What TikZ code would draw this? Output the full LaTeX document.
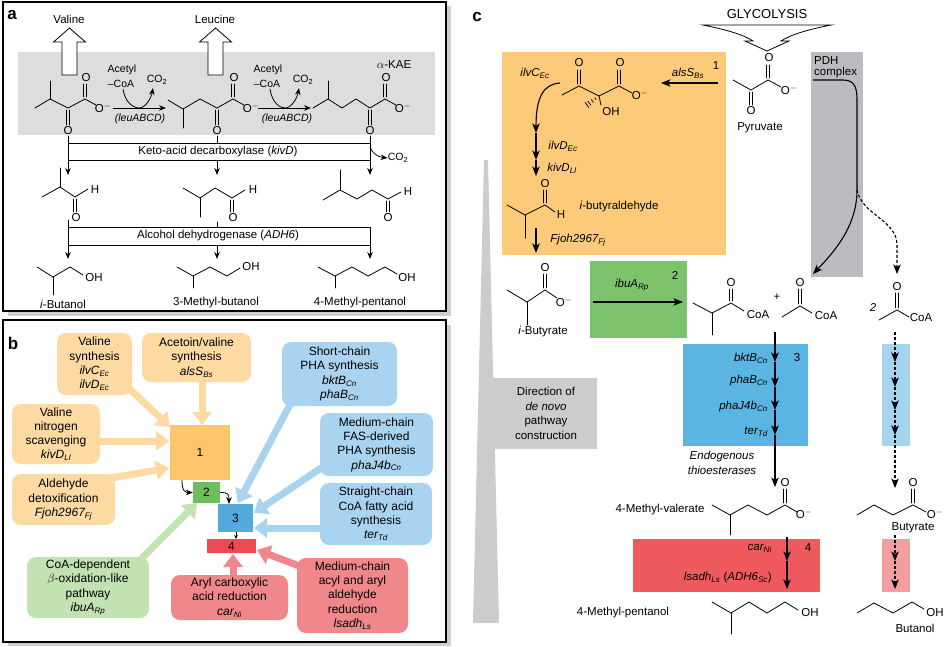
\documentclass[tikz,border=0pt]{standalone}
\usepackage{fontspec}
\setmainfont{Liberation Sans}
\usetikzlibrary{arrows.meta,calc}
\definecolor{band}{HTML}{DDDDDD}
\definecolor{shad}{HTML}{CFCFCF}
\definecolor{orL}{HTML}{FDDAA2}
\definecolor{orB}{HTML}{FDC56C}
\definecolor{grL}{HTML}{C2E2B2}
\definecolor{grB}{HTML}{6DBF5E}
\definecolor{blL}{HTML}{A9D3EE}
\definecolor{blB}{HTML}{54AADC}
\definecolor{rdL}{HTML}{F0878A}
\definecolor{rdB}{HTML}{EB4B50}
\definecolor{cor}{HTML}{FDCA7A}
\definecolor{cgr}{HTML}{7CC36C}
\definecolor{cbl}{HTML}{5BB5E2}
\definecolor{cblL}{HTML}{A6D4EF}
\definecolor{crd}{HTML}{EF5A5E}
\definecolor{crdL}{HTML}{F39EA1}
\definecolor{pdh}{HTML}{BBBCBF}
\definecolor{wedge}{HTML}{CBCCCE}
\newcommand{\gi}[2]{\textit{#1\textsubscript{#2}}}
\newcommand{\vdb}[3]{\draw[bond] (#1-1.3,#2) -- (#1-1.3,#3) (#1+1.3,#2) -- (#1+1.3,#3);}
\newcommand{\Om}{O\textsuperscript{$-$}}
\tikzset{
  lbl/.style={font=\fontsize{11.5}{13.5}\selectfont, inner sep=0pt},
  slbl/.style={font=\fontsize{10.5}{12}\selectfont, inner sep=0pt},
  plab/.style={font=\fontsize{17}{17}\selectfont\bfseries, inner sep=0pt},
  bond/.style={line width=0.8pt, line cap=round, line join=round},
  frame/.style={line width=1.3pt, draw=black},
  arr/.style={line width=0.8pt, -{Stealth[length=7pt,width=5.5pt]}},
  carr/.style={line width=1.1pt, -{Stealth[length=9.5pt,width=7.5pt,inset=2.5pt]}},
  dcarr/.style={carr, dash pattern=on 3pt off 2pt},
  bigarr/.style={line width=7pt, -{Triangle[length=13pt,width=19pt]}},
  pbox/.style={rounded corners=9pt, align=center, inner sep=0pt, font=\fontsize{12}{14.3}\selectfont},
  nbox/.style={inner sep=0pt, font=\fontsize{12}{14}\selectfont},
  blk/.style={line width=0.8pt, draw=black, fill=white, line join=miter},
}
\begin{document}
\begin{tikzpicture}[x=1pt,y=-1pt]
\useasboundingbox (0,0) rectangle (946,646);
\fill[white] (0,0) rectangle (946,646);
% ================= PANEL A =================
\fill[shad] (8,6) rectangle (451,316);
\draw[frame,fill=white] (3,2) rectangle (446,311);
\node[plab] (la) at (12,15) {a};
\fill[band] (18,52) rectangle (435,135);
\draw[blk] (62,75) -- (62,42) -- (53.5,42) -- (69.5,28) -- (85.5,42) -- (77,42) -- (77,75) -- cycle;
\draw[blk] (208,75) -- (208,42) -- (199.5,42) -- (215.5,28) -- (231.5,42) -- (223,42) -- (223,75) -- cycle;
\node[lbl] (val) at (69,19) {Valine};
\node[lbl] (leu) at (215,19) {Leucine};
% molecule 1
\draw[bond] (35,108) -- (50,99) -- (68,108) -- (85,99) -- (96,105);
\draw[bond] (50,99) -- (50,81);
\vdb{68}{110}{125}
\vdb{85}{97}{84}
\node[lbl] (m1o1) at (68,131) {O};
\node[lbl] (m1o2) at (86,78) {O};
\node[lbl] (m1o3) at (103,108) {\Om};
% reaction 1
\coordinate (r1a) at (113,108); \coordinate (r1b) at (166,108);
\draw[arr] (r1a) -- (r1b);
\draw[arr] (123,89) .. controls (125,103) and (134,108) .. (139,108) .. controls (145,108) and (151,99) .. (153,88);
\node[slbl] (ac1) at (122,70) {Acetyl};
\node[slbl] (co1) at (121,84) {--CoA};
\node[slbl] (cd1) at (157,80) {CO\textsubscript{2}};
\node[slbl] (leuA1) at (140,119) {\textit{(leuABCD)}};
% molecule 2
\draw[bond] (168,100) -- (183,109) -- (200,99) -- (217,108) -- (233,99) -- (244,105);
\draw[bond] (183,109) -- (183,128);
\vdb{217}{110}{125}
\vdb{233}{97}{84}
\node[lbl] (m2o1) at (217,131) {O};
\node[lbl] (m2o2) at (234,78) {O};
\node[lbl] (m2o3) at (251,108) {\Om};
% reaction 2
\coordinate (r2a) at (258,108); \coordinate (r2b) at (311,108);
\draw[arr] (r2a) -- (r2b);
\draw[arr] (270,89) .. controls (272,103) and (280,108) .. (285,108) .. controls (291,108) and (297,99) .. (299,88);
\node[slbl] (ac2) at (268,70) {Acetyl};
\node[slbl] (co2) at (267,84) {--CoA};
\node[slbl] (cd2) at (303,80) {CO\textsubscript{2}};
\node[slbl] (leuA2) at (287,119) {\textit{(leuABCD)}};
% molecule 3
\draw[bond] (313,108) -- (328,99) -- (342,108) -- (356,99) -- (370,108) -- (385,99) -- (396,105);
\draw[bond] (328,99) -- (328,81);
\vdb{370}{110}{125}
\vdb{385}{97}{84}
\node[lbl] (m3o1) at (370,131) {O};
\node[lbl] (m3o2) at (386,78) {O};
\node[lbl] (m3o3) at (403,108) {\Om};
\node[lbl] (kae) at (394,65) {$\alpha$-KAE};
% keto-acid decarboxylase bracket
\draw[bond] (68,136) -- (68,143); \draw[bond] (217,136) -- (217,143); \draw[bond] (370,136) -- (370,143);
\draw[bond, line cap=butt] (68,143) rectangle (370,160);
\node[lbl] (kivd) at (218,152) {Keto-acid decarboxylase (\textit{kivD})};
\coordinate (k1) at (68,160); \coordinate (k1e) at (68,175);
\coordinate (k2) at (217,160); \coordinate (k2e) at (217,175);
\coordinate (k3) at (370,160); \coordinate (k3e) at (370,175);
\draw[arr] (k1) -- (k1e); \draw[arr] (k2) -- (k2e); \draw[arr] (k3) -- (k3e);
\node[slbl] (cd3) at (398,158) {CO\textsubscript{2}};
\draw[arr] (370,147) .. controls (373,154) and (378,157) .. (cd3.west);
% aldehydes
\draw[bond] (42,197) -- (60,187) -- (75,197) -- (88,189);
\draw[bond] (60,187) -- (60,168);
\vdb{75}{199}{212}
\node[lbl] (aao) at (76,218) {O};
\node[lbl] (aah) at (95,190) {H};
\draw[bond] (183,188) -- (200,198) -- (215,188) -- (232,198) -- (245,190);
\draw[bond] (200,198) -- (200,217);
\vdb{232}{200}{212}
\node[lbl] (abo) at (233,218) {O};
\node[lbl] (abh) at (253,190) {H};
\draw[bond] (323,200) -- (340,190) -- (357,199) -- (372,190) -- (388,199) -- (401,192);
\draw[bond] (340,190) -- (340,170);
\vdb{388}{201}{212}
\node[lbl] (aco) at (388,218) {O};
\node[lbl] (ach) at (408,192) {H};
% alcohol dehydrogenase bracket
\draw[bond] (68,220) -- (68,227); \draw[bond] (217,222) -- (217,227);
\draw[bond, line cap=butt] (68,227) rectangle (370,245);
\node[lbl] (adh) at (218,236) {Alcohol dehydrogenase (\textit{ADH6})};
\coordinate (d1) at (68,245); \coordinate (d1e) at (68,259);
\coordinate (d2) at (217,245); \coordinate (d2e) at (217,259);
\coordinate (d3) at (370,245); \coordinate (d3e) at (370,259);
\draw[arr] (d1) -- (d1e); \draw[arr] (d2) -- (d2e); \draw[arr] (d3) -- (d3e);
% alcohols
\draw[bond] (37,267) -- (53,277) -- (70,267) -- (83,275);
\draw[bond] (53,277) -- (53,295);
\node[lbl] (ohA) at (94,278) {OH};
\draw[bond] (177,267) -- (193,276) -- (210,267) -- (227,276) -- (240,268);
\draw[bond] (193,276) -- (193,288);
\node[lbl] (ohB) at (251,267) {OH};
\draw[bond] (318,267) -- (335,276) -- (352,267) -- (368,276) -- (385,267) -- (397,274);
\draw[bond] (335,276) -- (335,288);
\node[lbl] (ohC) at (407,278) {OH};
\node[lbl] (nA) at (63,304) {\textit{i}-Butanol};
\node[lbl] (nB) at (216,303) {3-Methyl-butanol};
\node[lbl] (nC) at (360,303) {4-Methyl-pentanol};
% ================= PANEL B =================
\fill[shad] (8,325) rectangle (451,646);
\draw[frame,fill=white] (3,320) rectangle (446,642);
\node[plab] (lb) at (13,343) {b};
% big arrows
\draw[bigarr, orL] (118,378) -- (170,427);
\draw[bigarr, orL] (202,372) -- (202,425);
\draw[bigarr, orL] (90,441) -- (169,441);
\draw[bigarr, orL] (100,480) -- (169,468);
\draw[bigarr, grL] (130,570) -- (197,503);
\draw[bigarr, blL] (295,395) -- (238,503);
\draw[bigarr, blL] (330,462) -- (254,513);
\draw[bigarr, blL] (330,528) -- (254,528);
\draw[bigarr, rdL] (233,585) -- (233,554);
\draw[bigarr, rdL] (310,570) -- (257,550);
% boxes
\node[pbox, fill=orL, minimum width=75pt, minimum height=62pt] (vs) at (94.5,364) {Valine\\synthesis\\\gi{ilvC}{Ec}\\\gi{ilvD}{Ec}};
\node[pbox, fill=orL, minimum width=109pt, minimum height=49pt] (as) at (196.5,357.5) {Acetoin/valine\\synthesis\\\gi{alsS}{Bs}};
\node[pbox, fill=orL, minimum width=88pt, minimum height=60pt] (vn) at (56,434) {Valine\\nitrogen\\scavenging\\\gi{kivD}{Ll}};
\node[pbox, fill=orL, minimum width=103pt, minimum height=51pt] (ad) at (63.5,499.5) {Aldehyde\\detoxification\\\gi{Fjoh2967}{Fj}};
\node[pbox, fill=blL, minimum width=115pt, minimum height=64pt] (sc) at (339.5,374) {Short-chain\\PHA synthesis\\\gi{bktB}{Cn}\\\gi{phaB}{Cn}};
\node[pbox, fill=blL, minimum width=113pt, minimum height=63pt] (mc) at (376.5,444.5) {Medium-chain\\FAS-derived\\PHA synthesis\\\gi{phaJ4b}{Cn}};
\node[pbox, fill=blL, minimum width=112pt, minimum height=62pt] (st) at (376,514) {Straight-chain\\CoA fatty acid\\synthesis\\\gi{ter}{Td}};
\node[pbox, fill=grL, minimum width=122pt, minimum height=61pt] (co) at (88,587.5) {CoA-dependent\\$\beta$-oxidation-like\\pathway\\\gi{ibuA}{Rp}};
\node[pbox, fill=rdL, minimum width=117pt, minimum height=45pt] (ar) at (229.5,597.5) {Aryl carboxylic\\acid reduction\\\gi{car}{Ni}};
\node[pbox, fill=rdL, minimum width=111pt, minimum height=75pt] (ma) at (352.5,595.5) {Medium-chain\\acyl and aryl\\aldehyde\\reduction\\\gi{lsadh}{Ls}};
\node[nbox, fill=orB, minimum width=60pt, minimum height=55pt] (b1) at (200,452.5) {1};
\node[nbox, fill=grB, minimum width=27pt, minimum height=21pt] (b2) at (206.5,492.5) {2};
\node[nbox, fill=blB, minimum width=35pt, minimum height=28pt] (b3) at (235.5,518) {3};
\node[nbox, fill=rdB, minimum width=49pt, minimum height=14pt] (b4) at (231.5,546) {4};
\draw[arr] (182,480) .. controls (182,491) and (185,492.5) .. (b2.west);
\draw[arr] (b2.east) .. controls (228,492.5) and (229,494) .. (229,504);
\draw[line width=0.8pt, -{Stealth[length=4pt,width=3.5pt]}] (236,532) -- (236,539);
% ================= PANEL C =================
\node[plab] (lc) at (477,17) {c};
\fill[wedge] (484,160) -- (488,160) -- (499,623) -- (473,623) -- cycle;
\fill[wedge] (491,378) rectangle (597,449);
\node[lbl, align=center, font=\fontsize{11.5}{14.5}\selectfont] (dir) at (546,413.5) {Direction of\\\textit{de novo}\\pathway\\construction};
\fill[cor] (502,52) rectangle (726,255);
\fill[pdh] (811,52) rectangle (863,277);
\fill[cgr] (590,261) rectangle (687,338);
\fill[cbl] (683,344) rectangle (808,446);
\fill[cblL] (882,344) rectangle (910,446);
\fill[crd] (633,539) rectangle (820,592);
\fill[crdL] (882,539) rectangle (910,592);
% glycolysis
\node[lbl, font=\fontsize{13}{13}\selectfont] (gly) at (767,14) {GLYCOLYSIS};
\draw[blk] (703,25) -- (831,25) .. controls (806,30) and (790,35) .. (781,41) -- (789,41) -- (767,51) -- (745,41) -- (753,41) .. controls (744,35) and (728,30) .. (703,25) -- cycle;
% pyruvate
\draw[bond] (733,80) -- (751,90) -- (768,80) -- (781,87);
\vdb{751}{92}{105}
\vdb{768}{78}{65}
\node[lbl] (pyo1) at (751,111) {O};
\node[lbl] (pyo2) at (769,58) {O};
\node[lbl] (pyo3) at (789,90) {\Om};
\node[lbl] (pyr) at (760,128) {Pyruvate};
\node[lbl, anchor=west, align=left, font=\fontsize{11.5}{11}\selectfont] (pdhl) at (814,67) {PDH\\complex};
% alsS
\coordinate (al1) at (718,83); \coordinate (al2) at (661,83);
\draw[carr] (al1) -- (al2);
\node[lbl] (als) at (688,73) {\gi{alsS}{Bs}};
\node[lbl] (n1) at (716,66) {1};
% acetolactate
\draw[bond] (562,95) -- (579,86) -- (599,96) -- (619,86) -- (632,93);
\draw[bond] (599,96) -- (601,105);
\vdb{579}{84}{70}
\vdb{619}{84}{70}
\node[lbl] (alo1) at (579,63) {O};
\node[lbl] (alo2) at (620,63) {O};
\node[lbl] (alo3) at (640,95) {\Om};
\node[lbl] (aloh) at (611,112) {OH};
\draw[line width=0.7pt] (594.7,97.7) -- (596.1,99.7) (591.2,99.4) -- (593.6,102.6) (587.7,101.0) -- (591.1,105.4) (585,102.3) -- (589,107.7);
% valine pathway arrows
\node[lbl] (ilvc) at (535,73) {\gi{ilvC}{Ec}};
\coordinate (v0) at (560,83); \coordinate (v1) at (536,133); \coordinate (v2) at (536,160); \coordinate (v3) at (536,176);
\draw[carr] (v0) .. controls (543,84) and (536,98) .. (v1);
\draw[carr] (v1) -- (v2);
\draw[carr] (v2) -- (v3);
\node[lbl] (ilvd) at (563,146) {\gi{ilvD}{Ec}};
\node[lbl] (kivdl) at (562,168) {\gi{kivD}{Ll}};
% i-butyraldehyde
\draw[bond] (507,205) -- (525,215) -- (545,205) -- (555,212);
\draw[bond] (525,215) -- (525,238);
\vdb{545}{203}{190}
\node[lbl] (bao) at (545,184) {O};
\node[lbl] (bah) at (561,215) {H};
\node[lbl] (bal) at (619,207) {\textit{i}-butyraldehyde};
\coordinate (f1) at (536,228); \coordinate (f2) at (536,253);
\draw[carr] (f1) -- (f2);
\node[lbl] (fjoh) at (578,240) {\gi{Fjoh2967}{Fj}};
% i-butyrate
\draw[bond] (507,290) -- (527,302) -- (545,290) -- (557,298);
\draw[bond] (527,302) -- (527,325);
\vdb{545}{288}{274}
\node[lbl] (ibo) at (545,268) {O};
\node[lbl] (ibo2) at (564,302) {\Om};
\node[lbl] (ibl) at (543,332) {\textit{i}-Butyrate};
\coordinate (g1) at (593,302); \coordinate (g2) at (683,302);
\draw[carr] (g1) -- (g2);
\node[lbl] (ibua) at (632,285) {\gi{ibuA}{Rp}};
\node[lbl] (n2) at (675,275) {2};
% isobutyryl-CoA + acetyl-CoA
\draw[bond] (693,303) -- (712,313) -- (731,303) -- (744,311);
\draw[bond] (712,313) -- (712,335);
\vdb{731}{301}{289}
\node[lbl] (ico) at (731,283) {O};
\node[lbl] (icoa) at (758,315) {CoA};
\node[lbl] (plus) at (777,297) {+};
\draw[bond] (782,317) -- (800,306) -- (812,313);
\vdb{800}{304}{289}
\node[lbl] (aco1) at (800,283) {O};
\node[lbl] (acoa) at (826,316) {CoA};
% right acetyl-CoA
\node[lbl] (two) at (873,307) {\textit{2}};
\draw[bond] (879,320) -- (897,310) -- (909,317);
\vdb{897}{308}{293}
\node[lbl] (aco2) at (897,287) {O};
\node[lbl] (acoa2) at (921,318) {CoA};
% PDH arrows
\coordinate (p0) at (813,80); \coordinate (p1) at (857,190); \coordinate (p2) at (813,274); \coordinate (p3) at (897,274);
\draw[carr] (p0) -- (843,80) .. controls (855,80) and (857,88) .. (857,100) -- (p1) .. controls (857,225) and (836,250) .. (p2);
\draw[dcarr] (p1) .. controls (862,215) and (897,220) .. (897,245) -- (p3);
% blue column
\coordinate (e0) at (775,332); \coordinate (e1) at (775,362); \coordinate (e2) at (775,387); \coordinate (e3) at (775,410); \coordinate (e4) at (775,435); \coordinate (e5) at (775,487);
\draw[carr] (e0) -- (e1); \draw[carr] (e1) -- (e2); \draw[carr] (e2) -- (e3); \draw[carr] (e3) -- (e4); \draw[carr] (e4) -- (e5);
\coordinate (h0) at (895,332); \coordinate (h1) at (895,362); \coordinate (h2) at (895,387); \coordinate (h3) at (895,410); \coordinate (h4) at (895,435); \coordinate (h5) at (895,488);
\draw[dcarr] (h0) -- (h1); \draw[dcarr] (h1) -- (h2); \draw[dcarr] (h2) -- (h3); \draw[dcarr] (h3) -- (h4); \draw[dcarr] (h4) -- (h5);
\node[lbl, anchor=east] (bkt) at (768,358) {\gi{bktB}{Cn}};
\node[lbl, anchor=east] (phb) at (768,381) {\gi{phaB}{Cn}};
\node[lbl, anchor=east] (phj) at (768,407) {\gi{phaJ4b}{Cn}};
\node[lbl, anchor=east] (ter) at (768,432) {\gi{ter}{Td}};
\node[lbl] (n3) at (797,358) {3};
\node[lbl, align=center, font=\fontsize{11.5}{15}\selectfont] (endo) at (722,462.5) {\textit{Endogenous}\\\textit{thioesterases}};
% 4-methyl-valerate
\draw[bond] (712,505) -- (730,515) -- (748,505) -- (767,515) -- (785,505) -- (797,512);
\draw[bond] (730,515) -- (730,535);
\vdb{785}{503}{489}
\node[lbl] (mvo) at (785,483) {O};
\node[lbl] (mvo2) at (804,514) {\Om};
\node[lbl] (mvl) at (660,510) {4-Methyl-valerate};
% butyrate
\draw[bond] (857,515) -- (874,505) -- (893,515) -- (913,505) -- (926,512);
\vdb{913}{503}{489}
\node[lbl] (byo) at (913,483) {O};
\node[lbl] (byo2) at (935,514) {\Om};
\node[lbl] (byl) at (913,528) {Butyrate};
% red column
\coordinate (q0) at (787,537); \coordinate (q1) at (787,561); \coordinate (q2) at (787,589);
\draw[carr] (q0) -- (q1); \draw[carr] (q1) -- (q2);
\coordinate (s0) at (895,535); \coordinate (s1) at (895,561); \coordinate (s2) at (895,589);
\draw[dcarr] (s0) -- (s1); \draw[dcarr] (s1) -- (s2);
\node[lbl, anchor=east] (car) at (772,548) {\gi{car}{Ni}};
\node[lbl, anchor=east] (lsa) at (772,578) {\gi{lsadh}{Ls} (\gi{ADH6}{Sc})};
\node[lbl] (n4) at (808,548) {4};
% 4-methyl-pentanol
\draw[bond] (712,602) -- (731,613) -- (749,602) -- (767,613) -- (785,602) -- (798,610);
\draw[bond] (731,613) -- (731,634);
\node[lbl] (mpo) at (810,613) {OH};
\node[lbl] (mpl) at (623,613) {4-Methyl-pentanol};
% butanol
\draw[bond] (857,613) -- (874,603) -- (893,613) -- (912,602) -- (924,609);
\node[lbl] (buo) at (935,613) {OH};
\node[lbl] (bul) at (915,628) {Butanol};
\end{tikzpicture}
\end{document}
